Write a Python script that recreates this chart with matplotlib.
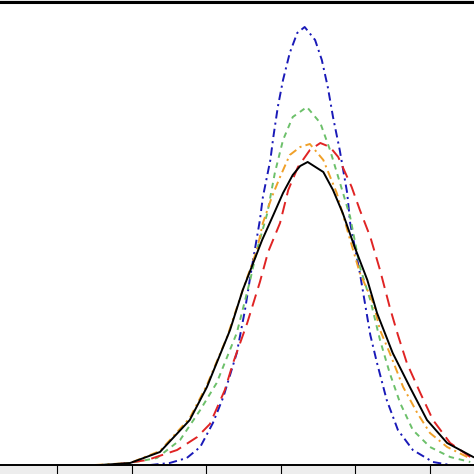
import matplotlib
matplotlib.use("Agg")
import matplotlib.pyplot as plt

# curves (x in tick units, y in arbitrary density units)
black_x = [0.58, 0.98, 1.38, 1.78, 2.01, 2.32, 2.49, 2.63, 2.75, 2.90, 3.03, 3.16, 3.26,
           3.36, 3.57, 3.70, 3.83, 3.99, 4.16, 4.29, 4.50, 4.73, 4.96, 5.23, 5.58]
black_y = [0.00, 0.02, 0.13, 0.45, 0.78, 1.35, 1.75, 2.02, 2.25, 2.50, 2.72, 2.90, 2.99,
           3.03, 2.93, 2.75, 2.52, 2.18, 1.85, 1.52, 1.12, 0.78, 0.45, 0.22, 0.08]

blue_x = [1.25, 1.51, 1.74, 1.92, 2.09, 2.23, 2.41, 2.52, 2.59, 2.72, 2.76, 2.86, 2.90,
          2.96, 3.03, 3.12, 3.22, 3.32, 3.46, 3.55, 3.63, 3.70, 3.79, 3.89, 3.93, 4.06,
          4.20, 4.29, 4.42, 4.57, 4.77, 5.04, 5.27]
blue_y = [0.00, 0.02, 0.07, 0.18, 0.42, 0.68, 1.12, 1.55, 1.88, 2.45, 2.68, 3.05, 3.28,
          3.58, 3.85, 4.12, 4.32, 4.38, 4.25, 4.05, 3.78, 3.48, 3.15, 2.72, 2.42, 1.92,
          1.30, 1.02, 0.65, 0.35, 0.15, 0.03, 0.00]

green_x = [0.62, 0.98, 1.34, 1.65, 1.92, 2.14, 2.41, 2.59, 2.68, 2.82, 2.92, 3.03, 3.16,
           3.35, 3.53, 3.66, 3.79, 3.93, 4.06, 4.20, 4.33, 4.46, 4.60, 4.77, 5.00, 5.27, 5.54]
green_y = [0.00, 0.02, 0.07, 0.25, 0.55, 0.82, 1.32, 1.85, 2.15, 2.52, 2.92, 3.25, 3.48,
           3.58, 3.42, 3.15, 2.83, 2.48, 1.98, 1.65, 1.25, 0.92, 0.62, 0.35, 0.18, 0.08, 0.03]

orange_x = [0.51, 0.98, 1.38, 1.78, 2.01, 2.28, 2.49, 2.68, 2.76, 2.88, 2.99, 3.12, 3.26,
            3.39, 3.57, 3.75, 3.93, 4.06, 4.24, 4.33, 4.46, 4.64, 4.83, 5.00, 5.23, 5.50]
orange_y = [0.00, 0.02, 0.14, 0.47, 0.80, 1.28, 1.75, 2.15, 2.42, 2.68, 2.88, 3.10, 3.18,
            3.21, 3.05, 2.72, 2.25, 1.92, 1.62, 1.35, 1.12, 0.78, 0.52, 0.32, 0.18, 0.08]

red_x = [0.75, 1.21, 1.61, 1.88, 2.05, 2.25, 2.36, 2.55, 2.72, 2.83, 2.99, 3.10, 3.23,
         3.39, 3.53, 3.66, 3.77, 3.95, 4.06, 4.20, 4.33, 4.46, 4.57, 4.69, 4.87, 5.04,
         5.27, 5.54]
red_y = [0.00, 0.05, 0.15, 0.28, 0.41, 0.75, 1.02, 1.42, 1.83, 2.13, 2.42, 2.75, 2.98,
         3.15, 3.22, 3.18, 3.08, 2.78, 2.55, 2.28, 1.95, 1.58, 1.30, 1.02, 0.72, 0.45,
         0.22, 0.08]

xticks = [0, 1, 2, 3, 4, 5]

plt.rcParams['lines.scale_dashes'] = False

fig = plt.figure(figsize=(4.74, 4.74), dpi=100, facecolor='#ededed')
ax = fig.add_axes([0, 9/474, 1, 463.5/474])
ax.set_facecolor('white')

lw = 1.4
ax.plot(blue_x, blue_y, color='#1a1ab8', lw=lw, linestyle=(0, (6, 3, 1.5, 3)))
ax.plot(green_x, green_y, color='#6cc06a', lw=lw, linestyle=(0, (4, 3.5)))
ax.plot(orange_x, orange_y, color='#f0a028', lw=lw, linestyle=(0, (6, 3, 1.5, 3)))
ax.plot(red_x, red_y, color='#e02424', lw=lw, linestyle=(0, (9, 5)))
ax.plot(black_x, black_y, color='black', lw=lw)

ax.set_xlim(-0.764, 5.590)
ax.set_ylim(0, 4.635)
ax.set_xticks(xticks)
ax.set_yticks([])
ax.tick_params(axis='x', direction='out', length=7, width=0.8, labelbottom=False)
ax.spines['left'].set_visible(False)
ax.spines['right'].set_visible(False)
ax.spines['top'].set_linewidth(2.2)
ax.spines['bottom'].set_linewidth(1.4)

fig.savefig('out.png', dpi=100, facecolor=fig.get_facecolor())
